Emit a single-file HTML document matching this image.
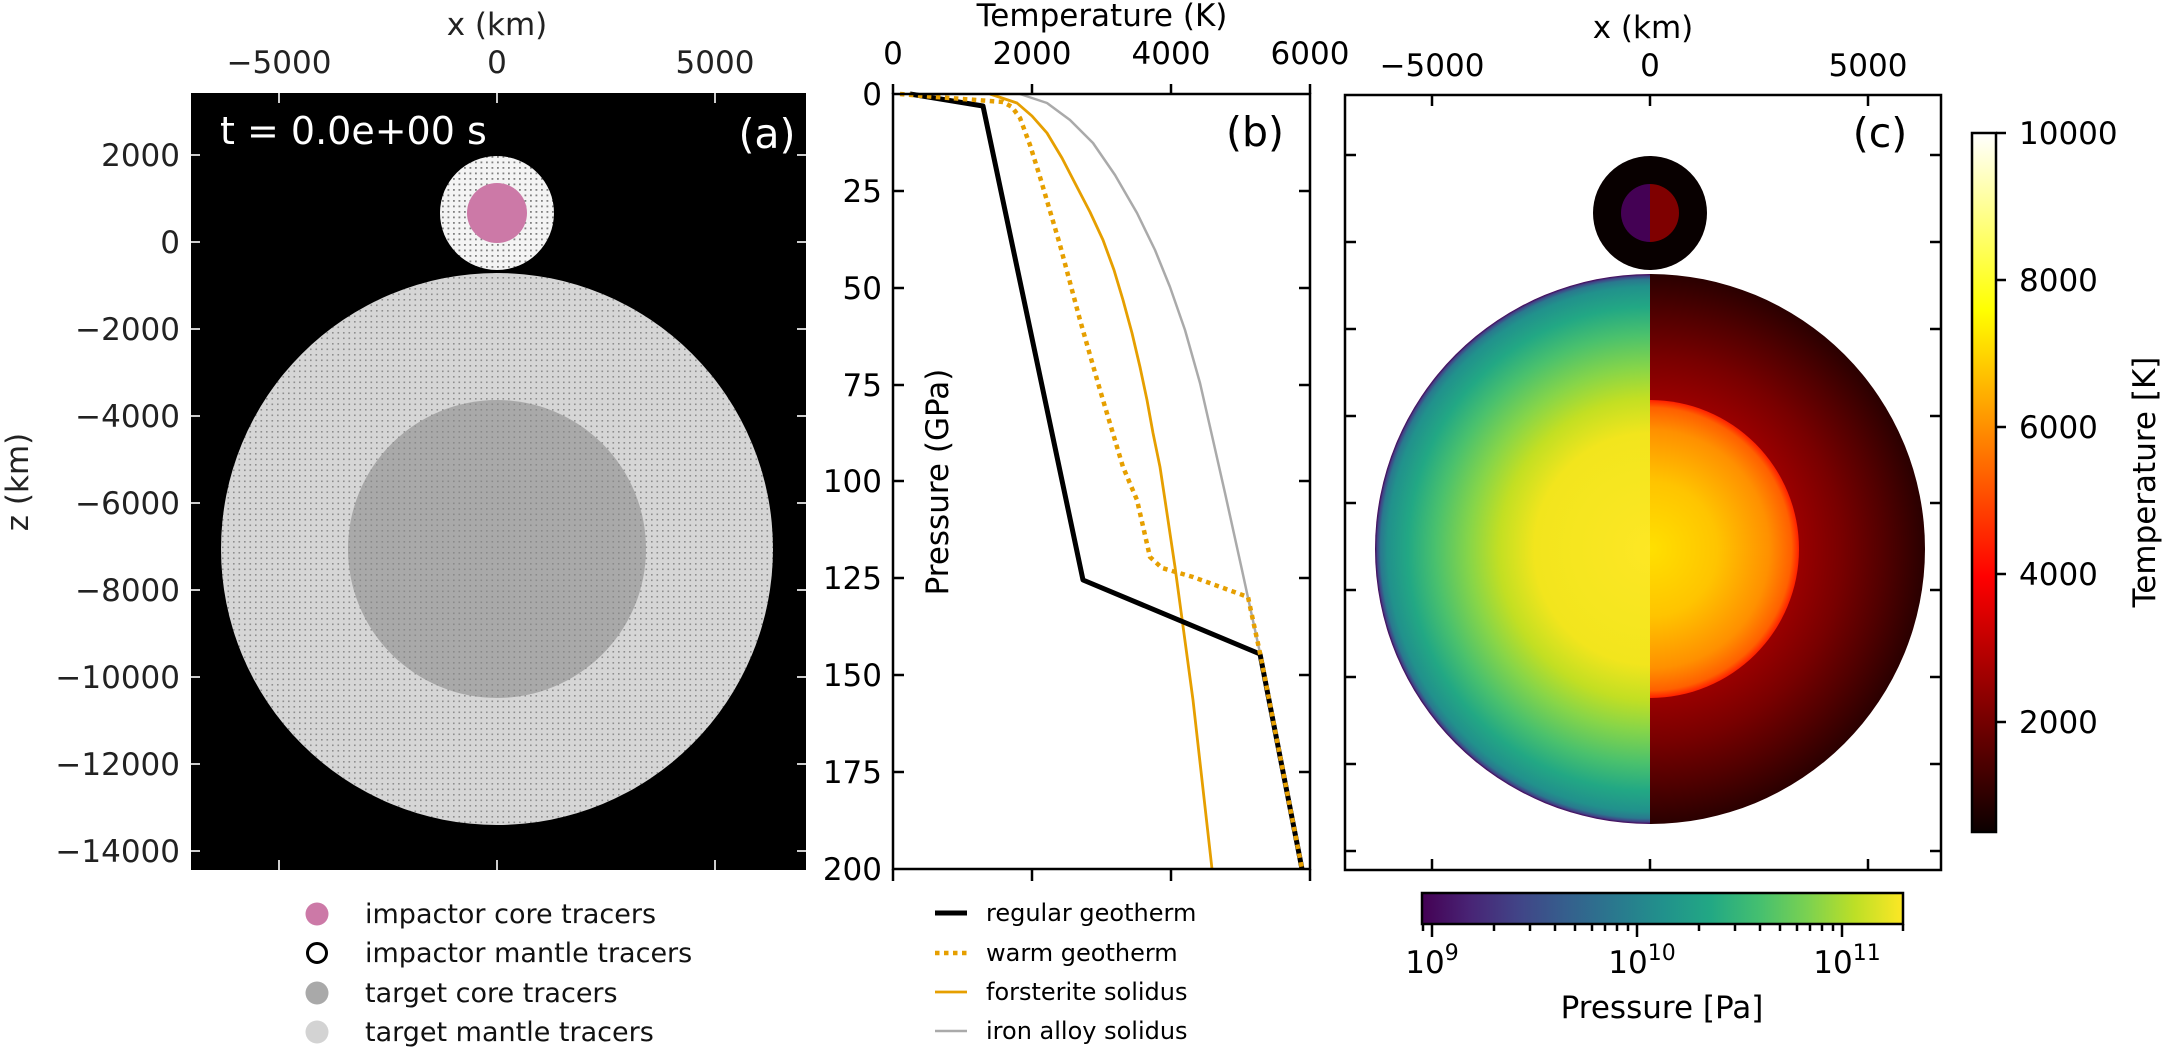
<!DOCTYPE html>
<html><head><meta charset="utf-8"><style>
html,body{margin:0;padding:0;background:#fff;}
svg{display:block;font-family:"DejaVu Sans","Liberation Sans",sans-serif;}
</style></head><body>
<svg width="2168" height="1048" viewBox="0 0 2168 1048" xmlns="http://www.w3.org/2000/svg">
<defs>
<pattern id="pm" x="0" y="0" width="5.5" height="5.5" patternUnits="userSpaceOnUse">
<rect width="5.5" height="5.5" fill="#d6d6d6"/><rect x="2" y="2" width="1.6" height="1.6" fill="#8e8e8e"/></pattern>
<pattern id="pc" x="0" y="0" width="5.5" height="5.5" patternUnits="userSpaceOnUse">
<rect width="5.5" height="5.5" fill="#a9a9a9"/><rect x="2" y="2" width="1.6" height="1.6" fill="#8a8a8a"/></pattern>
<pattern id="pi" x="0" y="0" width="5.5" height="5.5" patternUnits="userSpaceOnUse">
<rect width="5.5" height="5.5" fill="#f4f4f4"/><rect x="2" y="2" width="1.8" height="1.8" fill="#808080"/></pattern>
<radialGradient id="vir" cx="1650" cy="549" r="275" gradientUnits="userSpaceOnUse">
<stop offset="0" stop-color="#fde725"/><stop offset="0.42" stop-color="#f2e51d"/>
<stop offset="0.55" stop-color="#c2df23"/><stop offset="0.66" stop-color="#86d549"/>
<stop offset="0.78" stop-color="#4ac16d"/><stop offset="0.88" stop-color="#22a884"/>
<stop offset="0.955" stop-color="#21918c"/><stop offset="0.98" stop-color="#2a788e"/>
<stop offset="0.992" stop-color="#414487"/><stop offset="1" stop-color="#440154"/></radialGradient>
<radialGradient id="mant" cx="1650" cy="549" r="275" gradientUnits="userSpaceOnUse">
<stop offset="0.54" stop-color="#9a0000"/><stop offset="0.7" stop-color="#780000"/>
<stop offset="0.85" stop-color="#520000"/><stop offset="1" stop-color="#2a0000"/></radialGradient>
<radialGradient id="core" cx="1650" cy="549" r="149" gradientUnits="userSpaceOnUse">
<stop offset="0" stop-color="#ffe000"/><stop offset="0.45" stop-color="#ffc400"/>
<stop offset="0.8" stop-color="#ff9000"/><stop offset="0.95" stop-color="#ff6000"/><stop offset="1" stop-color="#ff2000"/></radialGradient>
<linearGradient id="hot" x1="0" y1="0" x2="0" y2="1">
<stop offset="0" stop-color="#ffffff"/><stop offset="0.254" stop-color="#ffff00"/>
<stop offset="0.635" stop-color="#ff0000"/><stop offset="1" stop-color="#0b0000"/></linearGradient>
<linearGradient id="virh" x1="0" y1="0" x2="1" y2="0">
<stop offset="0" stop-color="#440154"/><stop offset="0.1" stop-color="#482475"/><stop offset="0.2" stop-color="#414487"/>
<stop offset="0.3" stop-color="#355f8d"/><stop offset="0.4" stop-color="#2a788e"/><stop offset="0.5" stop-color="#21918c"/>
<stop offset="0.6" stop-color="#22a884"/><stop offset="0.7" stop-color="#44bf70"/><stop offset="0.8" stop-color="#7ad151"/>
<stop offset="0.9" stop-color="#bddf26"/><stop offset="1" stop-color="#fde725"/></linearGradient>
<clipPath id="ca"><rect x="191" y="93" width="615" height="777"/></clipPath>
<clipPath id="cL"><rect x="1345" y="200" width="305" height="700"/></clipPath>
<clipPath id="cR"><rect x="1650" y="200" width="300" height="700"/></clipPath>
</defs>

<!-- ============ Panel (a) ============ -->
<rect x="191" y="93" width="615" height="777" fill="#000"/>
<g clip-path="url(#ca)">
<circle cx="497" cy="549" r="276" fill="url(#pm)"/>
<circle cx="497" cy="549" r="149" fill="url(#pc)"/>
<circle cx="497" cy="213" r="57" fill="url(#pi)"/>
<circle cx="497" cy="213" r="30" fill="#cc79a7"/>
</g>
<g stroke="#ccc" stroke-width="2">
<line x1="279" y1="93" x2="279" y2="103"/><line x1="497" y1="93" x2="497" y2="103"/><line x1="715" y1="93" x2="715" y2="103"/>
<line x1="279" y1="870" x2="279" y2="860"/><line x1="497" y1="870" x2="497" y2="860"/><line x1="715" y1="870" x2="715" y2="860"/>
<line x1="191" y1="155" x2="200" y2="155"/><line x1="191" y1="242" x2="200" y2="242"/><line x1="191" y1="329" x2="200" y2="329"/><line x1="191" y1="416" x2="200" y2="416"/><line x1="191" y1="503" x2="200" y2="503"/><line x1="191" y1="590" x2="200" y2="590"/><line x1="191" y1="677" x2="200" y2="677"/><line x1="191" y1="764" x2="200" y2="764"/><line x1="191" y1="851" x2="200" y2="851"/>
<line x1="806" y1="155" x2="797" y2="155"/><line x1="806" y1="242" x2="797" y2="242"/><line x1="806" y1="329" x2="797" y2="329"/><line x1="806" y1="416" x2="797" y2="416"/><line x1="806" y1="503" x2="797" y2="503"/><line x1="806" y1="590" x2="797" y2="590"/><line x1="806" y1="677" x2="797" y2="677"/><line x1="806" y1="764" x2="797" y2="764"/><line x1="806" y1="851" x2="797" y2="851"/>
</g>
<g font-size="31" fill="#222" text-anchor="middle">
<text x="497" y="35">x (km)</text>
<text x="279" y="73">−5000</text><text x="497" y="73">0</text><text x="715" y="73">5000</text>
</g>
<g font-size="31" fill="#222" text-anchor="end">
<text x="180" y="166">2000</text><text x="180" y="253">0</text><text x="180" y="340">−2000</text><text x="180" y="427">−4000</text><text x="180" y="514">−6000</text><text x="180" y="601">−8000</text><text x="180" y="688">−10000</text><text x="180" y="775">−12000</text><text x="180" y="862">−14000</text>
</g>
<text x="28" y="482" font-size="31" fill="#222" text-anchor="middle" transform="rotate(-90 28 482)">z (km)</text>
<text x="220" y="144" font-size="38" fill="#fff">t = 0.0e+00 s</text>
<text x="767" y="148" font-size="41" fill="#fff" text-anchor="middle">(a)</text>
<!-- legend a -->
<ellipse cx="317" cy="914" rx="11.5" ry="11.5" fill="#cc79a7"/>
<ellipse cx="317" cy="953" rx="9.5" ry="9.5" fill="none" stroke="#000" stroke-width="3"/>
<ellipse cx="317" cy="993" rx="11.5" ry="11.5" fill="#a9a9a9"/>
<ellipse cx="317" cy="1032" rx="11.5" ry="11.5" fill="#d3d3d3"/>
<g font-size="27" fill="#111">
<text x="365" y="923">impactor core tracers</text>
<text x="365" y="962">impactor mantle tracers</text>
<text x="365" y="1002">target core tracers</text>
<text x="365" y="1041">target mantle tracers</text>
</g>

<!-- ============ Panel (b) ============ -->
<g fill="none" stroke-linejoin="round">
<polyline stroke="#aaaaaa" stroke-width="2.5" points="1020,94 1047,103 1070,120 1093,143 1115,175 1137,213 1155,250 1170,287 1185,330 1200,383 1213,440 1225,493 1242,570 1260,653 1302,869"/>
<polyline stroke="#e69f00" stroke-width="2.8" points="990,94 1017,103 1032,116 1047,133 1062,158 1077,187 1090,212 1103,240 1114,270 1123,300 1132,333 1140,367 1147,400 1153,433 1160,467 1165,500 1175,567 1193,700 1212,869"/>
<polyline stroke="#000" stroke-width="5" points="910,94 983,106 1083,580 1260,654 1302,869"/>
<polyline stroke="#e69f00" stroke-width="4.5" stroke-dasharray="4.5 4.5" stroke-linejoin="miter" points="900,94 923,96 1003,102 1012,107 1020,118 1030,145 1040,177 1060,245 1080,320 1100,390 1123,467 1137,500 1150,557 1162,568 1193,577 1248,597 1260,653 1302,869"/>
</g>
<rect x="893" y="94" width="417" height="775" fill="none" stroke="#000" stroke-width="2.5"/>
<g stroke="#000" stroke-width="2.5">
<line x1="1032" y1="94" x2="1032" y2="84"/><line x1="1171" y1="94" x2="1171" y2="84"/>
<line x1="893" y1="869" x2="893" y2="881"/><line x1="1032" y1="869" x2="1032" y2="881"/><line x1="1171" y1="869" x2="1171" y2="881"/><line x1="1310" y1="869" x2="1310" y2="881"/>
<line x1="893" y1="84" x2="893" y2="94"/><line x1="1310" y1="84" x2="1310" y2="94"/>
<line x1="893" y1="191" x2="904" y2="191"/><line x1="893" y1="288" x2="904" y2="288"/><line x1="893" y1="385" x2="904" y2="385"/><line x1="893" y1="481" x2="904" y2="481"/><line x1="893" y1="578" x2="904" y2="578"/><line x1="893" y1="675" x2="904" y2="675"/><line x1="893" y1="772" x2="904" y2="772"/>
<line x1="1310" y1="191" x2="1299" y2="191"/><line x1="1310" y1="288" x2="1299" y2="288"/><line x1="1310" y1="385" x2="1299" y2="385"/><line x1="1310" y1="481" x2="1299" y2="481"/><line x1="1310" y1="578" x2="1299" y2="578"/><line x1="1310" y1="675" x2="1299" y2="675"/><line x1="1310" y1="772" x2="1299" y2="772"/>
</g>
<g font-size="31" fill="#000" text-anchor="middle">
<text x="1102" y="26">Temperature (K)</text>
<text x="893" y="64">0</text><text x="1032" y="64">2000</text><text x="1171" y="64">4000</text><text x="1310" y="64">6000</text>
</g>
<g font-size="31" fill="#000" text-anchor="end">
<text x="882" y="105">0</text><text x="882" y="202">25</text><text x="882" y="299">50</text><text x="882" y="396">75</text><text x="882" y="492">100</text><text x="882" y="589">125</text><text x="882" y="686">150</text><text x="882" y="783">175</text><text x="882" y="880">200</text>
</g>
<text x="948" y="482" font-size="31" fill="#000" text-anchor="middle" transform="rotate(-90 948 482)">Pressure (GPa)</text>
<text x="1255" y="146" font-size="41" fill="#000" text-anchor="middle">(b)</text>
<!-- legend b -->
<line x1="935" y1="913" x2="967" y2="913" stroke="#000" stroke-width="5"/>
<line x1="935" y1="953" x2="967" y2="953" stroke="#e69f00" stroke-width="4.5" stroke-dasharray="4.5 4.5"/>
<line x1="935" y1="992" x2="967" y2="992" stroke="#e69f00" stroke-width="2.8"/>
<line x1="935" y1="1031" x2="967" y2="1031" stroke="#aaaaaa" stroke-width="2.5"/>
<g font-size="24" fill="#000">
<text x="986" y="921">regular geotherm</text>
<text x="986" y="961">warm geotherm</text>
<text x="986" y="1000">forsterite solidus</text>
<text x="986" y="1039">iron alloy solidus</text>
</g>

<!-- ============ Panel (c) ============ -->
<g clip-path="url(#cL)"><circle cx="1650" cy="549" r="275" fill="url(#vir)"/></g>
<g clip-path="url(#cR)"><circle cx="1650" cy="549" r="275" fill="url(#mant)"/><circle cx="1650" cy="549" r="149" fill="url(#core)"/></g>
<circle cx="1650" cy="213" r="57" fill="#080000"/>
<path d="M1650 184 A29 29 0 0 0 1650 242 Z" fill="#440154"/>
<path d="M1650 184 A29 29 0 0 1 1650 242 Z" fill="#7f0000"/>
<rect x="1345" y="95" width="596" height="775" fill="none" stroke="#000" stroke-width="2.5"/>
<g stroke="#000" stroke-width="2.5">
<line x1="1432" y1="95" x2="1432" y2="106"/><line x1="1650" y1="95" x2="1650" y2="106"/><line x1="1868" y1="95" x2="1868" y2="106"/>
<line x1="1432" y1="870" x2="1432" y2="859"/><line x1="1650" y1="870" x2="1650" y2="859"/><line x1="1868" y1="870" x2="1868" y2="859"/>
<line x1="1345" y1="155" x2="1356" y2="155"/><line x1="1345" y1="242" x2="1356" y2="242"/><line x1="1345" y1="329" x2="1356" y2="329"/><line x1="1345" y1="416" x2="1356" y2="416"/><line x1="1345" y1="503" x2="1356" y2="503"/><line x1="1345" y1="590" x2="1356" y2="590"/><line x1="1345" y1="677" x2="1356" y2="677"/><line x1="1345" y1="764" x2="1356" y2="764"/><line x1="1345" y1="851" x2="1356" y2="851"/>
<line x1="1941" y1="155" x2="1930" y2="155"/><line x1="1941" y1="242" x2="1930" y2="242"/><line x1="1941" y1="329" x2="1930" y2="329"/><line x1="1941" y1="416" x2="1930" y2="416"/><line x1="1941" y1="503" x2="1930" y2="503"/><line x1="1941" y1="590" x2="1930" y2="590"/><line x1="1941" y1="677" x2="1930" y2="677"/><line x1="1941" y1="764" x2="1930" y2="764"/><line x1="1941" y1="851" x2="1930" y2="851"/>
</g>
<g font-size="31" fill="#000" text-anchor="middle">
<text x="1643" y="38">x (km)</text>
<text x="1432" y="76">−5000</text><text x="1650" y="76">0</text><text x="1868" y="76">5000</text>
</g>
<text x="1880" y="147" font-size="41" fill="#000" text-anchor="middle">(c)</text>

<!-- Temperature colorbar -->
<rect x="1972" y="133" width="24" height="699" fill="url(#hot)" stroke="#000" stroke-width="2.5"/>
<g stroke="#000" stroke-width="2.5">
<line x1="1996" y1="133" x2="2006" y2="133"/><line x1="1996" y1="280" x2="2006" y2="280"/><line x1="1996" y1="427" x2="2006" y2="427"/><line x1="1996" y1="574" x2="2006" y2="574"/><line x1="1996" y1="722" x2="2006" y2="722"/>
</g>
<g font-size="31" fill="#000">
<text x="2019" y="144">10000</text><text x="2019" y="291">8000</text><text x="2019" y="438">6000</text><text x="2019" y="585">4000</text><text x="2019" y="733">2000</text>
</g>
<text x="2155" y="482" font-size="31" fill="#000" text-anchor="middle" transform="rotate(-90 2155 482)">Temperature [K]</text>

<!-- Pressure colorbar -->
<rect x="1422" y="893" width="481" height="31" fill="url(#virh)" stroke="#000" stroke-width="2.5"/>
<g stroke="#000" stroke-width="2.5">
<line x1="1432" y1="924" x2="1432" y2="937"/><line x1="1637" y1="924" x2="1637" y2="937"/><line x1="1842" y1="924" x2="1842" y2="937"/>
<line x1="1423" y1="924" x2="1423" y2="931"/>
<line x1="1494" y1="924" x2="1494" y2="931"/><line x1="1530" y1="924" x2="1530" y2="931"/><line x1="1555" y1="924" x2="1555" y2="931"/><line x1="1575" y1="924" x2="1575" y2="931"/><line x1="1592" y1="924" x2="1592" y2="931"/><line x1="1605" y1="924" x2="1605" y2="931"/><line x1="1617" y1="924" x2="1617" y2="931"/><line x1="1628" y1="924" x2="1628" y2="931"/>
<line x1="1699" y1="924" x2="1699" y2="931"/><line x1="1735" y1="924" x2="1735" y2="931"/><line x1="1760" y1="924" x2="1760" y2="931"/><line x1="1780" y1="924" x2="1780" y2="931"/><line x1="1797" y1="924" x2="1797" y2="931"/><line x1="1810" y1="924" x2="1810" y2="931"/><line x1="1822" y1="924" x2="1822" y2="931"/><line x1="1833" y1="924" x2="1833" y2="931"/>
<line x1="1903" y1="924" x2="1903" y2="931"/>
</g>
<g font-size="31" fill="#000" text-anchor="middle">
<text x="1432" y="973">10<tspan font-size="22" dy="-13">9</tspan></text>
<text x="1642" y="973">10<tspan font-size="22" dy="-13">10</tspan></text>
<text x="1847" y="973">10<tspan font-size="22" dy="-13">11</tspan></text>
<text x="1662" y="1018">Pressure [Pa]</text>
</g>
</svg>
</body></html>
